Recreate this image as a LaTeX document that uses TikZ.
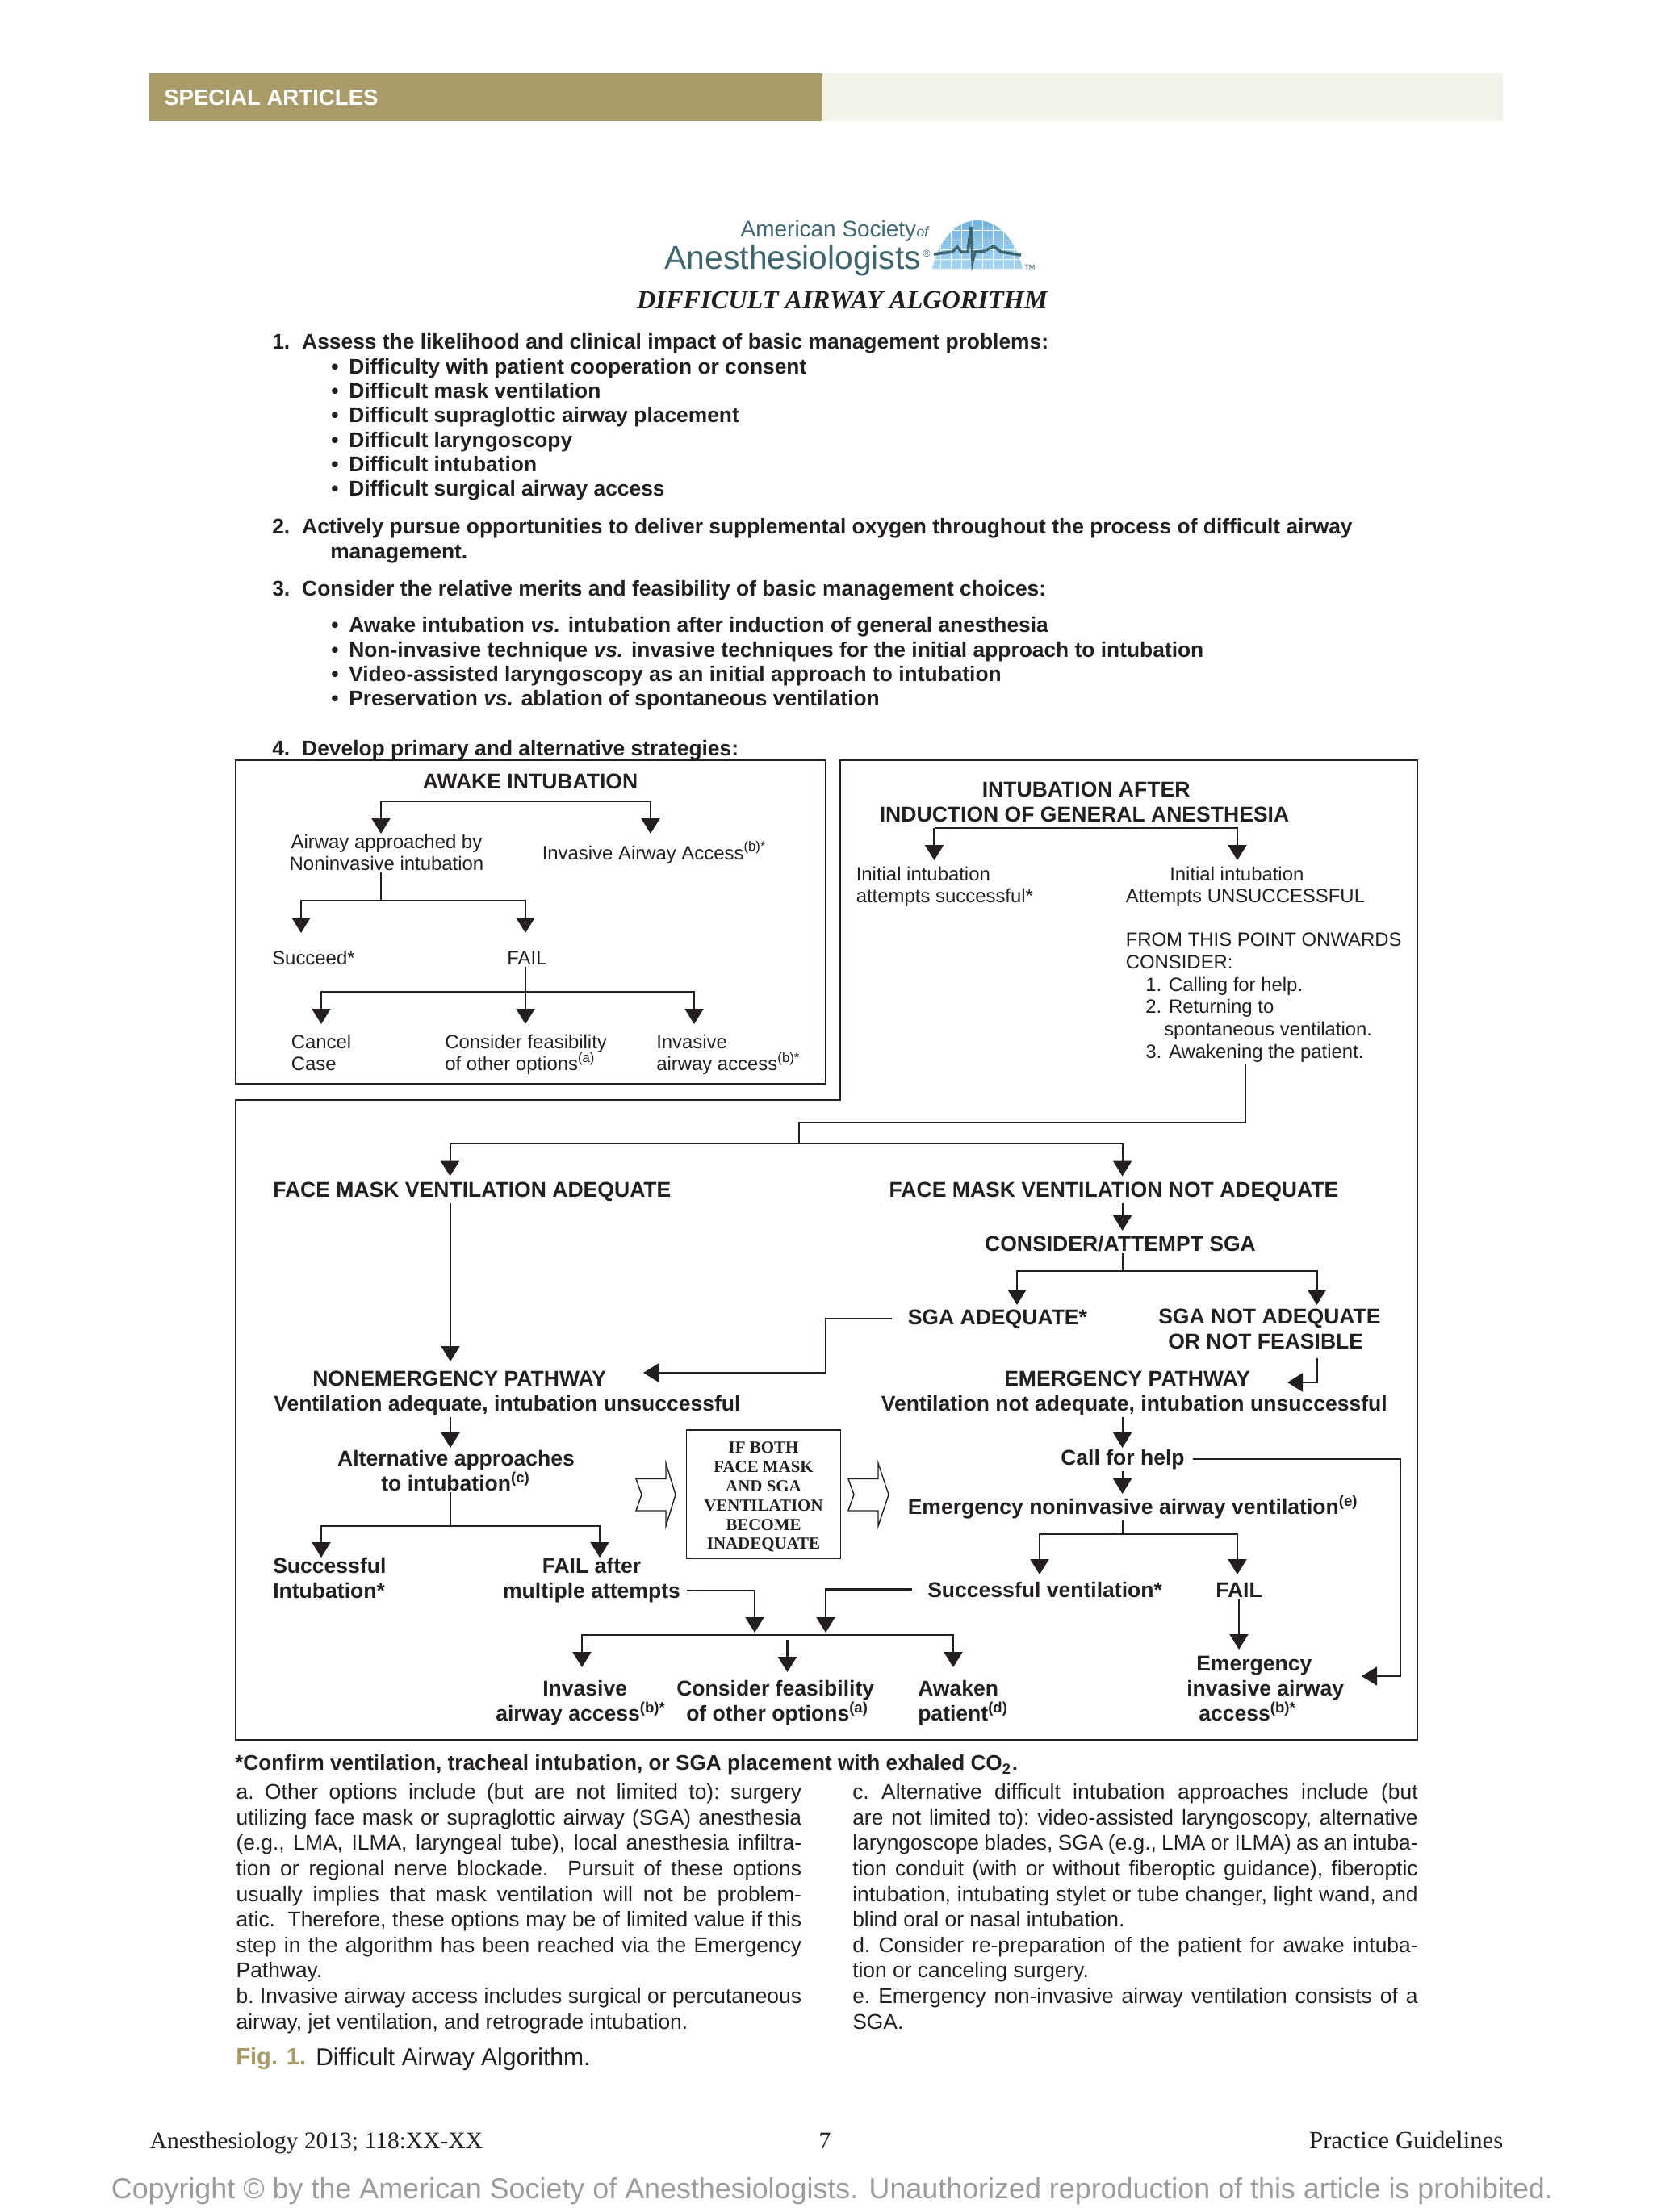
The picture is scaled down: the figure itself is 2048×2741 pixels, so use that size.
\documentclass[tikz,border=0pt]{standalone}
\usepackage{fontspec}
\setmainfont{Liberation Sans}
\newfontfamily\serifface{Liberation Serif}
\usetikzlibrary{arrows.meta}

\definecolor{ink}{HTML}{231F20}
\definecolor{goldbar}{HTML}{A99C69}
\definecolor{creambar}{HTML}{F3F2EB}
\definecolor{copygray}{HTML}{9C9CA0}
\definecolor{logoteal}{HTML}{3E6670}
\definecolor{domeblue}{HTML}{6FB4E3}
\definecolor{domelight}{HTML}{A9D6F1}

\newdimen\unitpx
\unitpx=0.01cm
\newcommand{\bulletline}[1]{\hspace*{73\unitpx}\makebox[22\unitpx][l]{\textbullet}#1}
\newcommand{\listnum}[1]{\makebox[37\unitpx][l]{#1}}

\tikzset{
  boldlbl/.style={inner sep=0pt, outer sep=0.5pt, anchor=north, align=center,
    font=\fontsize{7.55}{8.82}\selectfont\bfseries, execute at begin node={\rule{0pt}{6pt}}},
  boldleft/.style={boldlbl, anchor=north west, align=left, xshift=-0.015cm},
  plainlbl/.style={inner sep=0pt, outer sep=0.5pt, anchor=north, align=center,
    font=\fontsize{6.8}{7.9}\selectfont, execute at begin node={\rule{0pt}{6pt}}},
  plainleft/.style={plainlbl, anchor=north west, align=left, xshift=-0.015cm},
  listtext/.style={boldleft, font=\fontsize{7.5}{8.62}\selectfont\bfseries},
  notetext/.style={inner sep=0pt, anchor=north west, align=justify, text width=7cm,
    font=\fontsize{7.5}{8.98}\selectfont, execute at begin node={\frenchspacing\rule{0pt}{6pt}}},
  flow/.style={line width=0.6pt, -{Triangle[length=1.9mm,width=2.3mm]}},
  branch/.style={line width=0.6pt},
  blockarrow/.style={line width=0.4pt, fill=white, line join=miter}
}

\begin{document}
\begin{tikzpicture}[x=0.01cm, y=-0.01cm, color=ink]
\useasboundingbox (0,0) rectangle (2048,2741);

% header
\fill[goldbar] (184,91) rectangle (1019,150);
\fill[creambar] (1019,91) rectangle (1862,150);
\node (header) [boldleft, text=white, font=\fontsize{7.85}{9}\selectfont\bfseries] at (203,108) {SPECIAL ARTICLES};

% logo
\node (logotop) [anchor=base west, inner sep=0pt, text=logoteal, font=\fontsize{7.95}{10}\selectfont] at (917,293) {American Society};
\node (logoof) [anchor=base west, inner sep=0pt, text=logoteal, font=\fontsize{5}{6}\selectfont\itshape] at (1135,293) {of};
\node (logomain) [anchor=base west, inner sep=0pt, text=logoteal, font=\fontsize{11.6}{13}\selectfont] at (823,333) {Anesthesiologists};
\node (logoreg) [anchor=base west, inner sep=0pt, text=logoteal, font=\fontsize{3.5}{4}\selectfont] at (1143,318) {\textregistered};
\node (logotm) [inner sep=0pt, text=logoteal, font=\fontsize{2.6}{3}\selectfont] at (1276,331) {TM};
\begin{scope}
\clip (1155,333) .. controls (1165,292) and (1188,273) .. (1211,273) .. controls (1235,273) and (1258,295) .. (1267,333) -- cycle;
\shade[top color=domeblue, bottom color=domelight] (1150,270) rectangle (1270,335);
\foreach \gx in {1165,1178,...,1265} \draw[white, line width=0.2pt] (\gx,270) -- (\gx,335);
\foreach \gy in {285,297,...,333} \draw[white, line width=0.2pt] (1150,\gy) -- (1270,\gy);
\end{scope}
\draw[logoteal, line width=1pt] (1157,315) -- (1180,312) -- (1186,306) -- (1191,312) -- (1199,312) -- (1203,281) -- (1205,324) -- (1208,312) -- (1220,311) -- (1231,305) -- (1240,312) -- (1265,316);

\node (title) [inner sep=0pt, font=\fontsize{9.2}{10}\selectfont\serifface\bfseries\itshape] at (1043.5,372) {DIFFICULT AIRWAY ALGORITHM};

% numbered list
\node (item1) [listtext] at (337,412) {\listnum{1.}Assess the likelihood and clinical impact of basic management problems:\\
\bulletline{Difficulty with patient cooperation or consent}\\
\bulletline{Difficult mask ventilation}\\
\bulletline{Difficult supraglottic airway placement}\\
\bulletline{Difficult laryngoscopy}\\
\bulletline{Difficult intubation}\\
\bulletline{Difficult surgical airway access}};
\node (item2) [listtext] at (337,641) {\listnum{2.}Actively pursue opportunities to deliver supplemental oxygen throughout the process of difficult airway\\
\hspace*{72\unitpx}management.};
\node (item3) [listtext] at (337,716) {\listnum{3.}Consider the relative merits and feasibility of basic management choices:};
\node (item3b) [listtext] at (337,763) {\bulletline{Awake intubation \textit{vs.} intubation after induction of general anesthesia}\\
\bulletline{Non-invasive technique \textit{vs.} invasive techniques for the initial approach to intubation}\\
\bulletline{Video-assisted laryngoscopy as an initial approach to intubation}\\
\bulletline{Preservation \textit{vs.} ablation of spontaneous ventilation}};
\node (item4) [listtext] at (337,914) {\listnum{4.}Develop primary and alternative strategies:};

% frames
\draw[line width=0.6pt] (292,942) rectangle (1023,1343);
\draw[line width=0.6pt, line join=miter] (1041,942) -- (1756,942) -- (1756,2156) -- (292,2156) -- (292,1363) -- (1041,1363) -- cycle;

% awake intubation
\node (awake) [boldlbl] at (657,955) {AWAKE INTUBATION};
\node (airway) [plainlbl] at (479,1032) {Airway approached by\\Noninvasive intubation};
\node (invaccess) [plainleft] at (671.5,1041) {Invasive Airway Access\textsuperscript{(b)*}};
\node (succeed) [plainleft] at (337,1173) {Succeed*};
\node (fail) [plainlbl] at (653,1173) {FAIL};
\node (cancel) [plainleft] at (360.6,1280) {Cancel\\Case};
\node (feasible) [plainleft] at (551,1280) {Consider feasibility\\of other options\textsuperscript{(a)}};
\node (invasive) [plainleft] at (813,1280) {Invasive\\airway access\textsuperscript{(b)*}};

\coordinate (awakebar) at (472,993);
\coordinate (tipairway) at (472,1033);
\coordinate (tipaccess) at (806,1033);
\coordinate (airwaybar) at (472,1116);
\coordinate (tipsucceed) at (373,1156);
\coordinate (tipfail) at (651,1156);
\coordinate (failbar) at (651,1229);
\coordinate (tipcancel) at (398,1269);
\coordinate (tipfeasible) at (651,1269);
\coordinate (tipinvasive) at (860,1269);

\draw[flow] (awakebar) -- (tipairway);
\draw[flow] (awakebar) -| (tipaccess);
\draw[branch] (airway.south -| airwaybar) -- (airwaybar);
\draw[flow] (airwaybar) -| (tipsucceed);
\draw[flow] (airwaybar) -| (tipfail);
\draw[flow] (fail.south -| failbar) -- (tipfeasible);
\draw[flow] (failbar) -| (tipcancel);
\draw[flow] (failbar) -| (tipinvasive);

% intubation after induction
\node (induction) [boldleft] at (1089.6,967) {\hspace*{127\unitpx}INTUBATION AFTER\\INDUCTION OF GENERAL ANESTHESIA};
\node (initok) [plainleft] at (1060.5,1072) {Initial intubation\\attempts successful*};
\node (initfail) [plainleft] at (1394.5,1072) {\hspace*{54.5\unitpx}Initial intubation\\Attempts UNSUCCESSFUL};
\node (onwards) [plainleft] at (1394.5,1154) {FROM THIS POINT ONWARDS\\CONSIDER:\\
\hspace*{24.5\unitpx}1. Calling for help.\\
\hspace*{24.5\unitpx}2. Returning to\\
\hspace*{47.5\unitpx}spontaneous ventilation.\\
\hspace*{24.5\unitpx}3. Awakening the patient.};

\coordinate (inductbar) at (1157.5,1026);
\coordinate (tipinitok) at (1157.5,1066);
\coordinate (tipinitfail) at (1533,1066);
\coordinate (onwardsbend) at (1543,1391);
\coordinate (maskbar) at (990,1417);
\coordinate (tipmaskok) at (557.6,1457.5);
\coordinate (tipmaskno) at (1390.6,1457.5);

\draw[flow] (inductbar) -- (tipinitok);
\draw[flow] (inductbar) -| (tipinitfail);
\draw[branch] (onwards.south -| onwardsbend) -- (onwardsbend) -| (maskbar);
\draw[flow] (maskbar) -| (tipmaskok);
\draw[flow] (maskbar) -| (tipmaskno);

% face mask ventilation
\node (maskok) [boldleft] at (338,1461) {FACE MASK VENTILATION ADEQUATE};
\node (maskno) [boldlbl] at (1380,1461) {FACE MASK VENTILATION NOT ADEQUATE};
\node (attempt) [boldlbl] at (1388,1528) {CONSIDER/ATTEMPT SGA};
\node (sgaok) [boldleft] at (1124.5,1619) {SGA ADEQUATE*};
\node (sgano) [boldleft] at (1435,1620.5) {SGA NOT ADEQUATE\\\hspace*{12\unitpx}OR NOT FEASIBLE};
\node (nonemerg) [boldleft] at (339,1697) {\hspace*{48\unitpx}NONEMERGENCY PATHWAY\\Ventilation adequate, intubation unsuccessful};
\node (emerg) [boldleft] at (1091.5,1697) {\hspace*{152.5\unitpx}EMERGENCY PATHWAY\\Ventilation not adequate, intubation unsuccessful};

\coordinate (tipnonemerg) at (558,1687);
\coordinate (tipattempt) at (1390.6,1525);
\coordinate (sgabar) at (1390.6,1575);
\coordinate (tipsgaok) at (1260,1617);
\coordinate (tipsgano) at (1631.5,1617);
\coordinate (sgabend) at (1023,1701);
\coordinate (tipsgaside) at (797,1701);
\coordinate (sgaturn) at (1631.5,1713);
\coordinate (tipemerg) at (1595,1713);

\draw[flow] (maskok.south -| tipnonemerg) -- (tipnonemerg);
\draw[flow] (maskno.south -| tipattempt) -- (tipattempt);
\draw[branch] (attempt.south -| sgabar) -- (sgabar);
\draw[flow] (sgabar) -| (tipsgaok);
\draw[flow] (sgabar) -| (tipsgano);
\draw[flow, shorten <=5pt] (sgaok.west) -| (sgabend) -- (tipsgaside);
\draw[flow, shorten <=2.5pt] (sgano.south -| sgaturn) -- (sgaturn) -- (tipemerg);

% lower pathways
\node (altern) [boldlbl] at (565,1795) {Alternative approaches\\to intubation\textsuperscript{(c)}};
\node (succintub) [boldleft] at (338,1928) {Successful\\Intubation*};
\node (failafter) [boldlbl] at (733,1928) {FAIL after\\multiple attempts};
\node (callhelp) [boldlbl] at (1391,1793) {Call for help};
\node (noninv) [boldleft] at (1124.5,1851) {Emergency noninvasive airway ventilation\textsuperscript{(e)}};
\node (succvent) [boldleft] at (1149,1957) {Successful ventilation*};
\node (failvent) [boldlbl] at (1535,1957) {FAIL};
\node (invasiveb) [boldleft] at (614,2080) {\hspace*{58\unitpx}Invasive\\airway access\textsuperscript{(b)*}};
\node (feasibleb) [boldleft] at (838,2080) {Consider feasibility\\\hspace*{12\unitpx}of other options\textsuperscript{(a)}};
\node (awaken) [boldleft] at (1137,2080) {Awaken\\patient\textsuperscript{(d)}};
\node (emeraccess) [boldleft] at (1470,2050) {\hspace*{12\unitpx}Emergency\\invasive airway\\\hspace*{15\unitpx}access\textsuperscript{(b)*}};
\node (ifboth) [draw, line width=0.5pt, minimum width=1.91cm, minimum height=1.59cm, inner sep=0pt, align=center,
  font=\fontsize{5.95}{6.77}\selectfont\serifface\bfseries] at (946,1851.5) {\rule{0pt}{6pt}IF BOTH\\FACE MASK\\AND SGA\\VENTILATION\\BECOME\\INADEQUATE};

\coordinate (tipaltern) at (558,1794);
\coordinate (alternbar) at (558,1891);
\coordinate (tipsuccintub) at (398,1930);
\coordinate (tipfailafter) at (743,1930);
\coordinate (failout) at (851,1971);
\coordinate (tipfailbar) at (935,2023);
\coordinate (tipsuccbar) at (1023,2023);
\coordinate (optionbar) at (975.5,2026);
\coordinate (optionstem) at (975.5,2032);
\coordinate (tipinvasiveb) at (721,2066);
\coordinate (tipfeasibleb) at (975.5,2072);
\coordinate (tipawaken) at (1181,2066);
\coordinate (tipcall) at (1390.6,1794);
\coordinate (tipnoninv) at (1390.6,1851);
\coordinate (noninvbar) at (1390.6,1901);
\coordinate (tipsuccvent) at (1288,1951);
\coordinate (tipfailvent) at (1533,1951);
\coordinate (tipemeraccess) at (1535,2044);
\coordinate (helpturn) at (1735,2077);
\coordinate (tiphelp) at (1687,2077);

\draw[flow] (nonemerg.south -| tipaltern) -- (tipaltern);
\draw[branch] (altern.south -| alternbar) -- (alternbar);
\draw[flow] (alternbar) -| (tipsuccintub);
\draw[flow] (alternbar) -| (tipfailafter);
\draw[flow] (failout) -| (tipfailbar);
\draw[flow, shorten <=5pt] (succvent.west) -| (tipsuccbar);
\draw[flow] (optionbar) -| (tipinvasiveb);
\draw[flow] (optionbar) -| (tipawaken);
\draw[flow] (optionstem) -- (tipfeasibleb);
\draw[flow] (emerg.south -| tipcall) -- (tipcall);
\draw[flow] (callhelp.south -| tipnoninv) -- (tipnoninv);
\draw[branch] (noninv.south -| noninvbar) -- (noninvbar);
\draw[flow] (noninvbar) -| (tipsuccvent);
\draw[flow] (noninvbar) -| (tipfailvent);
\draw[flow] (failvent.south -| tipemeraccess) -- (tipemeraccess);
\draw[flow, shorten <=2.4pt] (callhelp.east) -| (helpturn) -- (tiphelp);

% block arrows beside the box
\draw[blockarrow] (788,1832.5) -- (825,1832.5) -- (825,1813) -- (837,1852) -- (825,1891) -- (825,1872) -- (788,1872) -- (795,1852) -- cycle;
\draw[blockarrow] (1051,1832.5) -- (1088,1832.5) -- (1088,1813) -- (1101,1852) -- (1088,1891) -- (1088,1872) -- (1051,1872) -- (1058,1852) -- cycle;

% notes
\node (confirm) [boldleft, font=\fontsize{7.45}{8.82}\selectfont\bfseries] at (291,2171) {*Confirm ventilation, tracheal intubation, or SGA placement with exhaled CO\textsubscript{2}.};
\node (notesa) [notetext] at (292,2208) {a. Other options include (but are not limited to): surgery\linebreak
utilizing face mask or supraglottic airway (SGA) anesthesia\linebreak
(e.g., LMA, ILMA, laryngeal tube), local anesthesia infiltra-\linebreak
tion or regional nerve blockade.~ Pursuit of these options\linebreak
usually implies that mask ventilation will not be problem-\linebreak
atic.~ Therefore, these options may be of limited value if this\linebreak
step in the algorithm has been reached via the Emergency\linebreak
Pathway.\\
b. Invasive airway access includes surgical or percutaneous\linebreak
airway, jet ventilation, and retrograde intubation.};
\node (notesc) [notetext] at (1055.6,2208) {c. Alternative difficult intubation approaches include (but\linebreak
are not limited to): video-assisted laryngoscopy, alternative\linebreak
laryngoscope blades, SGA (e.g., LMA or ILMA) as an intuba-\linebreak
tion conduit (with or without fiberoptic guidance), fiberoptic\linebreak
intubation, intubating stylet or tube changer, light wand, and\linebreak
blind oral or nasal intubation.\\
d. Consider re-preparation of the patient for awake intuba-\linebreak
tion or canceling surgery.\\
e. Emergency non-invasive airway ventilation consists of a\linebreak
SGA.};

% caption and footer
\node (figlabel) [boldleft, text=goldbar, font=\fontsize{8.3}{10}\selectfont\bfseries] at (292,2536) {Fig. 1.};
\node (figcaption) [plainleft, font=\fontsize{8.55}{10}\selectfont] at (391,2536) {Difficult Airway Algorithm.};
\node (journal) [anchor=base west, inner sep=0pt, font=\fontsize{8.4}{10}\selectfont\serifface] at (185,2662) {Anesthesiology 2013; 118:XX-XX};
\node (pagenum) [anchor=base, inner sep=0pt, font=\fontsize{8.4}{10}\selectfont\serifface] at (1022,2662) {7};
\node (section) [anchor=base east, inner sep=0pt, font=\fontsize{8.75}{10}\selectfont\serifface] at (1863,2662) {Practice Guidelines};
\node (copyright) [anchor=base, inner sep=0pt, text=copygray, font=\fontsize{10.2}{12}\selectfont] at (1031,2724) {Copyright © by the American Society of Anesthesiologists. Unauthorized reproduction of this article is prohibited.};
\end{tikzpicture}
\end{document}
